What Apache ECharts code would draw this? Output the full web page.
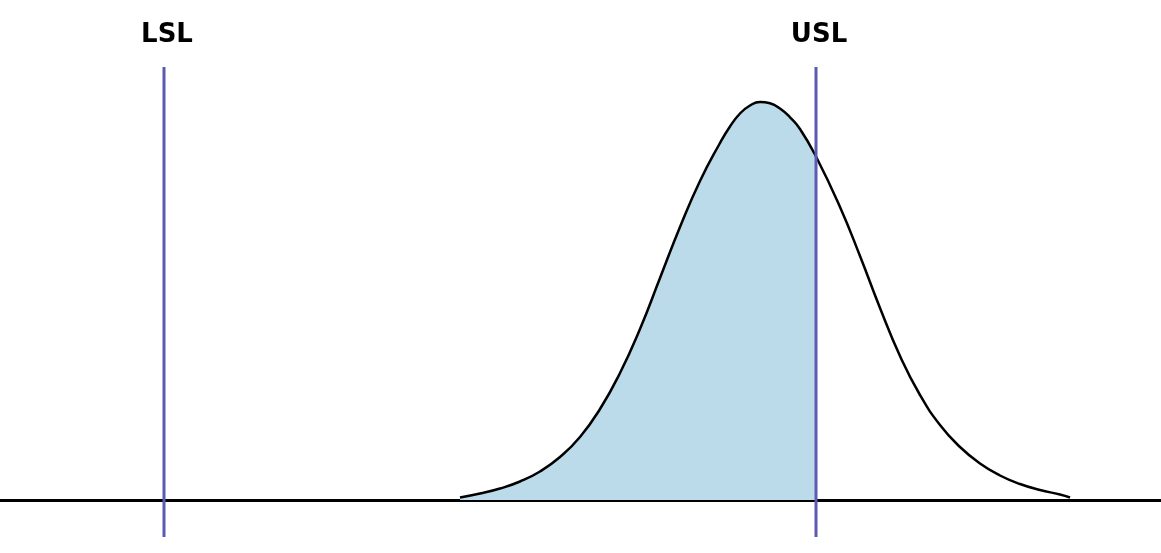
<!DOCTYPE html>
<html>
<head>
<meta charset="utf-8">
<script src="https://cdn.jsdelivr.net/npm/echarts@6/dist/echarts.min.js"></script>
<style>
html,body{margin:0;padding:0;background:#fff;}
#c{width:1161px;height:553px;}
</style>
</head>
<body>
<div id="c"></div>
<script>
const curveX = [46, 48, 50, 52, 54, 56, 58, 60, 62, 64, 66, 68, 70, 72, 73, 74, 75, 76, 77, 78, 79, 80, 81.6, 84, 86, 88, 90, 92, 94, 96, 98, 100, 102, 104, 106, 107];
const curveY = [0.0025, 0.0065, 0.0115, 0.0185, 0.0285, 0.043, 0.063, 0.091, 0.127, 0.171, 0.222, 0.273, 0.319, 0.357, 0.3735, 0.3865, 0.3945, 0.398, 0.3967, 0.3915, 0.3827, 0.371, 0.3435, 0.293, 0.244, 0.192, 0.144, 0.105, 0.075, 0.053, 0.0365, 0.0245, 0.016, 0.010, 0.0055, 0.0025];
const specNames = ['LSL', 'USL'];
const specValues = [16.4, 81.6];
const specLineTop = 0.433;
const specLineBottom = -0.037;
const labelY = 0.4645;

const curve = curveX.map((x, i) => [x, curveY[i]]);
const usl = specValues[1];
const filled = curve.filter(p => p[0] <= usl + 1e-9);

const series = [
  {
    type: 'line', data: filled, smooth: true, symbol: 'none',
    lineStyle: { width: 0 }, areaStyle: { color: '#bcdbea', opacity: 1 },
    z: 1, silent: true
  },
  {
    type: 'line', data: curve, smooth: true, symbol: 'none',
    lineStyle: { color: '#000', width: 2.5 }, z: 3, silent: true
  }
];
specNames.forEach((n, i) => {
  series.push({
    type: 'line', name: n, symbol: 'none', silent: true, z: 4,
    data: [[specValues[i], specLineBottom], [specValues[i], specLineTop]],
    lineStyle: { color: '#5b5bb3', width: 3 }
  });
  series.push({
    type: 'scatter', name: n + ' label', symbolSize: 0, silent: true, z: 5,
    itemStyle: { opacity: 1 },
    data: [[specValues[i], labelY]],
    label: {
      show: true, position: 'inside', formatter: n, offset: [3, 0],
      fontFamily: 'DejaVu Sans', fontWeight: 'bold', fontSize: 26, color: '#000',
      textBorderWidth: 0
    }
  });
});

const chart = echarts.init(document.getElementById('c'), null, { renderer: 'canvas' });
chart.setOption({
  animation: false,
  backgroundColor: '#fff',
  grid: { left: 0, right: 0, top: 0, bottom: 0 },
  xAxis: {
    type: 'value', min: 0, max: 116.1,
    axisLine: { show: true, onZero: true, lineStyle: { color: '#000', width: 3 } },
    axisTick: { show: false }, axisLabel: { show: false }, splitLine: { show: false }
  },
  yAxis: {
    type: 'value', min: -0.053, max: 0.5,
    axisLine: { show: false }, axisTick: { show: false },
    axisLabel: { show: false }, splitLine: { show: false }
  },
  series: series
});
</script>
</body>
</html>
